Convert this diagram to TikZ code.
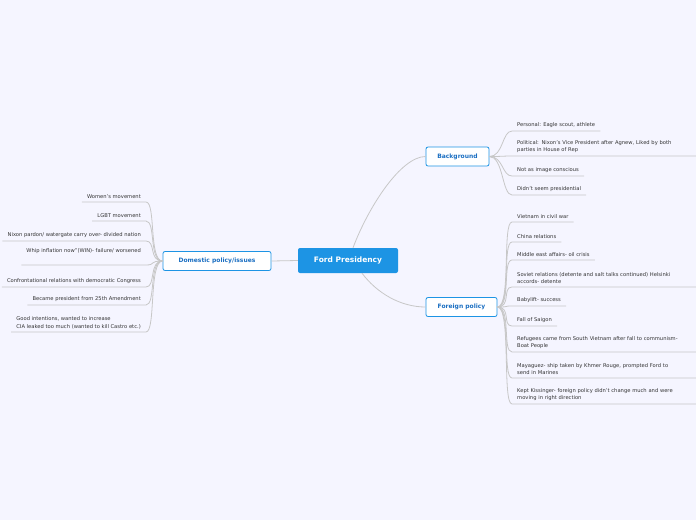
\documentclass[tikz,border=0pt]{standalone}
\usepackage{fontspec}
\setmainfont{DejaVu Sans}
\definecolor{cblue}{HTML}{1D94E4}
\definecolor{tblue}{HTML}{1B6FC2}
\begin{document}
\begin{tikzpicture}[x=1pt,y=-1pt,
  lnk/.style={draw=black!22,line width=0.8pt},
  topic/.style={draw=cblue,fill=white,rounded corners=2pt,line width=0.8pt,text=tblue,font=\fontsize{6}{8}\selectfont\bfseries,minimum height=19pt,inner xsep=2pt},
  rleaf/.style={anchor=south west,inner xsep=5pt,inner ysep=3pt,align=left,font=\fontsize{5.2}{7.2}\selectfont,text=black!80},
  lleaf/.style={anchor=south east,inner xsep=5pt,inner ysep=3pt,align=left,font=\fontsize{5.2}{7.2}\selectfont,text=black!80}]
\fill[blue!4!white] (0,0) rectangle (696,520);
\useasboundingbox (0,0) rectangle (696,520);
\node[fill=cblue,rounded corners=2pt,text=white,font=\fontsize{7.5}{10}\selectfont\bfseries,minimum width=100pt,minimum height=25pt] (ford) at (348,260.5) {Ford Presidency};
\node[topic,minimum width=63pt] (bg) at (457.5,156.5) {Background};
\node[topic,minimum width=71pt] (fp) at (461.5,307) {Foreign policy};
\node[topic,minimum width=108pt] (dp) at (217,261) {Domestic policy/issues};
\draw[lnk] (ford.north) ++(5,0) .. controls +(15,-40) and +(-25,0) .. (bg.west);
\draw[lnk] (ford.south) ++(14,0) .. controls +(15,20) and +(-25,0) .. (fp.west);
\draw[lnk] (ford.west) -- (dp.east);
\foreach \n/\y/\t/\w in {b1/131/{Personal: Eagle scout, athlete}/0,
  b2/156/{Political: Nixon's Vice President after Agnew, Liked by both\\parties in House of Rep}/1,
  b3/176/{Not as image conscious}/0, b4/195/{Didn't seem presidential}/0}{
  \ifnum\w=1 \node[rleaf,text width=174pt] (\n) at (512,\y) {\t};\else\node[rleaf] (\n) at (512,\y) {\t};\fi
  \draw[lnk] (bg.east) .. controls +(14,0) and +(-10,0) .. (\n.south west) -- (\n.south east);}
\foreach \n/\y/\t/\w in {f1/222/{Vietnam in civil war}/0, f2/242/{China relations}/0,
  f3/260/{Middle east affairs- oil crisis}/0,
  f4/287/{Soviet relations (detente and salt talks continued) Helsinki\\accords- detente}/1,
  f5/306/{Babylift- success}/0, f6/326/{Fall of Saigon}/0,
  f7/352/{Refugees came from South Vietnam after fall to communism-\\Boat People}/1,
  f8/378/{Mayaguez- ship taken by Khmer Rouge, prompted Ford to\\send in Marines}/1,
  f9/404/{Kept Kissinger- foreign policy didn't change much and were\\moving in right direction}/1}{
  \ifnum\w=1 \node[rleaf,text width=174pt] (\n) at (512,\y) {\t};\else\node[rleaf] (\n) at (512,\y) {\t};\fi
  \draw[lnk] (fp.east) .. controls +(14,0) and +(-10,0) .. (\n.south west) -- (\n.south east);}
\foreach \n/\y/\t in {d1/202/{Women's movement}, d2/221/{LGBT movement},
  d3/241/{Nixon pardon/ watergate carry over- divided nation},
  d4/265/{Whip inflation now"(WIN)- failure/ worsened\\\strut},
  d5/287/{Confrontational relations with democratic Congress},
  d6/305/{Became president from 25th Amendment},
  d7/332/{Good intentions, wanted to increase\\CIA leaked too much (wanted to kill Castro etc.)}}{
  \node[lleaf] (\n) at (146,\y) {\t};
  \draw[lnk] (dp.west) .. controls +(-14,0) and +(10,0) .. (\n.south east) -- (\n.south west);}
\end{tikzpicture}
\end{document}
